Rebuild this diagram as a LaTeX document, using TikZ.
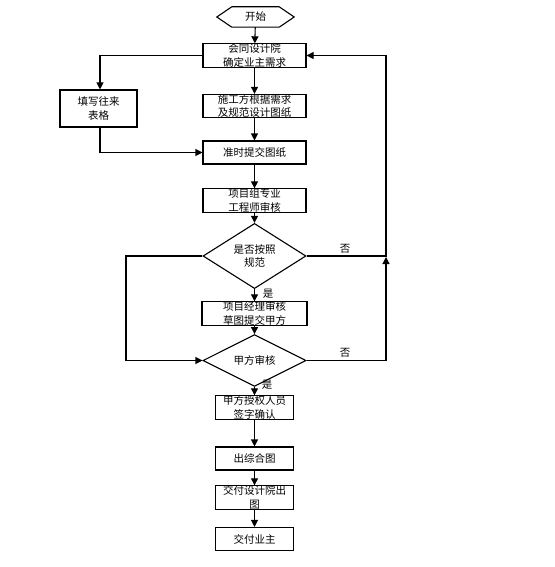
\documentclass[tikz,border=0pt]{standalone}
\usepackage{fontspec}
\newfontfamily\cjk{Noto Sans CJK SC}
\usetikzlibrary{shapes.geometric,arrows.meta}
\begin{document}
\begin{tikzpicture}[x=1pt,y=-1pt,
  every node/.style={font=\cjk\fontsize{10.5}{13.5}\selectfont},
  proc/.style={draw,line width=1.1pt,minimum width=103pt,minimum height=23pt,inner sep=0pt,align=center},
  sproc/.style={proc,minimum width=78pt},
  dec/.style={draw,diamond,line width=1.1pt,minimum width=103pt,inner sep=0pt,align=center},
  lbl/.style={inner sep=0pt},
  conn/.style={line width=1.1pt,-{Triangle[length=7pt,width=7pt]}}]
\useasboundingbox[fill=white] (0,0) rectangle (554,567);
% start hexagon
\node[minimum width=77pt,minimum height=20pt,inner sep=0pt] (start) at (255.5,17) {开始};
\draw[line width=1.1pt] (start.west) -- ([xshift=15pt]start.north west) -- ([xshift=-15pt]start.north east) -- (start.east) -- ([xshift=-15pt]start.south east) -- ([xshift=15pt]start.south west) -- cycle;
\node[proc] (b1) at (254.5,55.5) {会同设计院\\确定业主需求};
\node[proc,minimum width=77pt,minimum height=37pt] (left) at (98.5,108.5) {填写往来\\表格};
\node[proc] (b2) at (254.5,106) {施工方根据需求\\及规范设计图纸};
\node[proc] (b3) at (254.5,152.5) {准时提交图纸};
\node[proc] (b4) at (254.5,200.5) {项目组专业\\工程师审核};
\node[dec,minimum height=46pt] (d1) at (254.5,256) {是否按照\\规范};
\node[proc,minimum width=105pt] (b5) at (254.5,313.5) {项目经理审核\\草图提交甲方};
\node[dec,minimum height=33pt] (d2) at (254.5,360.5) {甲方审核};
\node[sproc] (b6) at (254.5,407.5) {甲方授权人员\\签字确认};
\node[sproc] (b7) at (254.5,458.5) {出综合图};
\node[sproc] (b8) at (254.5,497.5) {交付设计院出\\图};
\node[sproc] (b9) at (254.5,539) {交付业主};
% labels
\node[lbl] (y1) at (268,294) {是};
\node[lbl] (y2) at (267,385) {是};
\node[lbl] (n1) at (345,249) {否};
\node[lbl] (n2) at (345,353) {否};
% coordinates
\coordinate (rt) at (386,55.5);
\coordinate (rm) at (386,256);
\coordinate (rb) at (386,360.5);
\coordinate (lb) at (126,360.5);
\coordinate (lt) at (126,256);
\coordinate (ul) at (100,55.5);
\coordinate (ll) at (100,152.5);
% connectors
\draw[conn] (start) -- (b1);
\draw[conn] (b1) -- (b2);
\draw[conn] (b2) -- (b3);
\draw[conn] (b3) -- (b4);
\draw[conn] (b4) -- (d1);
\draw[conn] (d1) -- (b5);
\draw[conn] (b5) -- (d2);
\draw[conn] (d2) -- (b6);
\draw[conn] (b6) -- (b7);
\draw[conn] (b7) -- (b8);
\draw[conn] (b8) -- (b9);
\draw[conn] (b1.west) -- (ul) -- (left.north -| ul);
\draw[conn] (left.south -| ll) -- (ll) -- (b3.west);
\draw[conn] (d2.east) -- (rb) -- ([yshift=-1pt]rm);
\draw[conn] (d1.east) -- (rm) -- (rt) -- (b1.east);
\draw[conn] (d1.west) -- (lt) -- (lb) -- (d2.west);
\end{tikzpicture}
\end{document}
